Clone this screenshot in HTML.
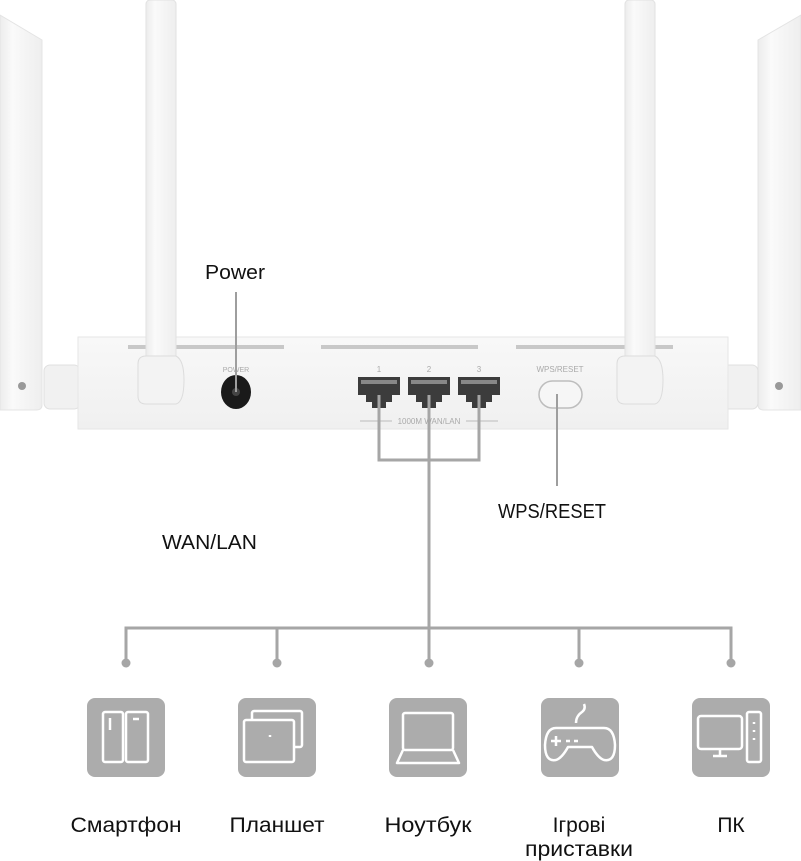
<!DOCTYPE html>
<html><head><meta charset="utf-8"><style>
html,body{margin:0;padding:0;background:#fff;}
svg{display:block;}
text{font-family:"Liberation Sans",sans-serif;}
</style></head><body>
<svg width="801" height="861" viewBox="0 0 801 861" xmlns="http://www.w3.org/2000/svg">
<defs>
<linearGradient id="ant" x1="0" x2="1"><stop offset="0" stop-color="#ececec"/><stop offset="0.3" stop-color="#fafafa"/><stop offset="1" stop-color="#eeeeee"/></linearGradient>
<linearGradient id="body" x1="0" y1="0" x2="0" y2="1"><stop offset="0" stop-color="#f8f8f8"/><stop offset="1" stop-color="#f0f0f0"/></linearGradient>
</defs>
<path d="M0 15 L42 40 L42 405 Q42 410 36 410 L0 410 Z" fill="url(#ant)" stroke="#e4e4e4"/>
<path d="M801 15 L758 40 L758 405 Q758 410 764 410 L801 410 Z" fill="url(#ant)" stroke="#e4e4e4"/>
<circle cx="22" cy="386" r="4" fill="#999"/>
<circle cx="779" cy="386" r="4" fill="#999"/>
<rect x="44" y="365" width="36" height="44" rx="6" fill="#f1f1f1" stroke="#e0e0e0"/>
<rect x="722" y="365" width="36" height="44" rx="6" fill="#f1f1f1" stroke="#e0e0e0"/>
<rect x="78" y="337" width="650" height="92" fill="url(#body)" stroke="#e6e6e6"/>
<rect x="128" y="345" width="156" height="4" fill="#c8c8c8"/>
<rect x="321" y="345" width="157" height="4" fill="#c8c8c8"/>
<rect x="516" y="345" width="157" height="4" fill="#c8c8c8"/>
<rect x="146" y="0" width="30" height="370" rx="4" fill="url(#ant)" stroke="#e2e2e2"/>
<rect x="625" y="0" width="30" height="370" rx="4" fill="url(#ant)" stroke="#e2e2e2"/>
<path d="M138 364 Q138 356 146 356 L176 356 Q184 360 184 380 Q184 402 176 404 L146 404 Q138 404 138 396 Z" fill="#f3f3f3" stroke="#dcdcdc"/>
<path d="M617 364 Q617 356 625 356 L655 356 Q663 360 663 380 Q663 402 655 404 L625 404 Q617 404 617 396 Z" fill="#f3f3f3" stroke="#dcdcdc"/>
<text x="236" y="372" font-size="7" fill="#aaa" text-anchor="middle">POWER</text>
<ellipse cx="236" cy="392" rx="15" ry="17" fill="#1a1a1a"/>
<circle cx="236" cy="392" r="4" fill="#444"/>
<line x1="236" y1="292" x2="236" y2="392" stroke="#9e9e9e" stroke-width="2"/>
<text x="205" y="279" font-size="20" fill="#111" textLength="60" lengthAdjust="spacingAndGlyphs">Power</text>
<g font-size="8" fill="#aaa" text-anchor="middle">
<text x="379" y="372">1</text><text x="429" y="372">2</text><text x="479" y="372">3</text>
</g>
<g fill="#3c3c3c">
<path d="M358 377 h42 v18 h-8 v7 h-6 v6 h-14 v-6 h-6 v-7 h-8 Z"/>
<path d="M408 377 h42 v18 h-8 v7 h-6 v6 h-14 v-6 h-6 v-7 h-8 Z"/>
<path d="M458 377 h42 v18 h-8 v7 h-6 v6 h-14 v-6 h-6 v-7 h-8 Z"/>
</g>
<g fill="#888"><rect x="361" y="380" width="36" height="4"/><rect x="411" y="380" width="36" height="4"/><rect x="461" y="380" width="36" height="4"/></g>
<line x1="360" y1="421" x2="392" y2="421" stroke="#bbb"/>
<line x1="466" y1="421" x2="498" y2="421" stroke="#bbb"/>
<text x="429" y="424" font-size="8" fill="#aaa" text-anchor="middle">1000M WAN/LAN</text>
<text x="560" y="372" font-size="8" fill="#aaa" text-anchor="middle">WPS/RESET</text>
<rect x="539" y="381" width="43" height="27" rx="13.5" fill="#f6f6f6" stroke="#bdbdbd" stroke-width="1.5"/>
<line x1="557" y1="394" x2="557" y2="486" stroke="#9e9e9e" stroke-width="2"/>
<text x="498" y="518" font-size="20" fill="#111" textLength="108" lengthAdjust="spacingAndGlyphs">WPS/RESET</text>
<g stroke="#a6a6a6" stroke-width="3" fill="none">
<path d="M379 395 V460 H479 V395"/>
<path d="M429 395 V663"/>
<path d="M126 663 V628 H731 V663"/>
<path d="M277 628 V663 M579 628 V663"/>
</g>
<g fill="#a6a6a6">
<circle cx="126" cy="663" r="4.5"/><circle cx="277" cy="663" r="4.5"/><circle cx="429" cy="663" r="4.5"/><circle cx="579" cy="663" r="4.5"/><circle cx="731" cy="663" r="4.5"/>
</g>
<text x="162" y="549" font-size="20" fill="#111" textLength="95" lengthAdjust="spacingAndGlyphs">WAN/LAN</text>
<g fill="#acacac">
<rect x="87" y="698" width="78" height="79" rx="8"/>
<rect x="238" y="698" width="78" height="79" rx="8"/>
<rect x="389" y="698" width="78" height="79" rx="8"/>
<rect x="541" y="698" width="78" height="79" rx="8"/>
<rect x="692" y="698" width="78" height="79" rx="8"/>
</g>
<g stroke="#fff" stroke-width="2.5" fill="none" stroke-linejoin="round">
<rect x="103" y="712" width="20" height="50" rx="2"/>
<rect x="126" y="712" width="22" height="50" rx="2"/>
<line x1="110" y1="718" x2="110" y2="730"/>
<line x1="133" y1="719" x2="139" y2="719"/>
<rect x="252" y="711" width="50" height="36" rx="2"/>
<rect x="244" y="720" width="50" height="42" rx="2" fill="#acacac"/>
<line x1="270" y1="735" x2="270" y2="737"/>
<rect x="403" y="713" width="50" height="37" rx="2"/>
<path d="M403 750 L397 763 H459 L453 750"/>
<path d="M576 723 Q576 716 582 712 Q586 709 584 704"/>
<path d="M556 728 Q546 728 545 745 Q545 762 556 760 Q562 758 568 747 H592 Q598 758 604 760 Q615 762 615 745 Q614 728 604 728 Z"/>
<path d="M551 741 h10 M556 736 v10 M566 741 h4 M574 741 h4"/>
<rect x="698" y="716" width="44" height="33" rx="3"/>
<path d="M720 749 V755 M713 756 H727"/>
<rect x="747" y="712" width="14" height="50" rx="2"/>
<path d="M754 722 v2 M754 730 v2 M754 738 v2"/>
</g>
<g font-size="21" fill="#111" text-anchor="middle">
<text x="126" y="832" textLength="111" lengthAdjust="spacingAndGlyphs">Смартфон</text>
<text x="277" y="832" textLength="95" lengthAdjust="spacingAndGlyphs">Планшет</text>
<text x="428" y="832" textLength="87" lengthAdjust="spacingAndGlyphs">Ноутбук</text>
<text x="579" y="832">Ігрові</text>
<text x="579" y="856" textLength="108" lengthAdjust="spacingAndGlyphs">приставки</text>
<text x="731" y="832">ПК</text>
</g>
</svg>
</body></html>
